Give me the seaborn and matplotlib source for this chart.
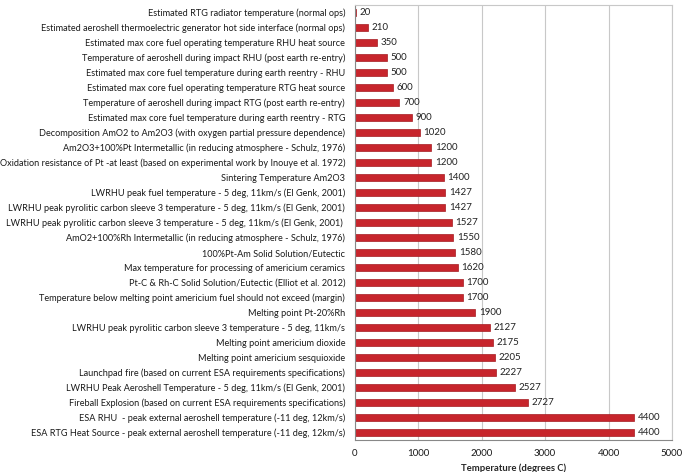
import pandas as pd
import seaborn as sns
from matplotlib import pyplot as plt
from matplotlib.ticker import MultipleLocator, FixedLocator

labels = [
    "Estimated RTG radiator temperature (normal ops)",
    "Estimated aeroshell thermoelectric generator hot side interface (normal ops)",
    "Estimated max core fuel operating temperature RHU heat source",
    "Temperature of aeroshell during impact RHU (post earth re-entry)",
    "Estimated max core fuel temperature during earth reentry - RHU",
    "Estimated max core fuel operating temperature RTG heat source",
    "Temperature of aeroshell during impact RTG (post earth re-entry)",
    "Estimated max core fuel temperature during earth reentry - RTG",
    "Decomposition AmO2 to Am2O3 (with oxygen partial pressure dependence)",
    "Am2O3+100%Pt Intermetallic (in reducing atmosphere - Schulz, 1976)",
    "Oxidation resistance of Pt -at least (based on experimental work by Inouye et al. 1972)",
    "Sintering Temperature Am2O3",
    "LWRHU peak fuel temperature - 5 deg, 11km/s (El Genk, 2001)",
    "LWRHU peak pyrolitic carbon sleeve 3 temperature - 5 deg, 11km/s (El Genk, 2001)",
    "LWRHU peak pyrolitic carbon sleeve 3 temperature - 5 deg, 11km/s (El Genk, 2001) ",
    "AmO2+100%Rh Intermetallic (in reducing atmosphere - Schulz, 1976)",
    "100%Pt-Am Solid Solution/Eutectic",
    "Max temperature for processing of americium ceramics",
    "Pt-C & Rh-C Solid Solution/Eutectic (Elliot et al. 2012)",
    "Temperature below melting point americium fuel should not exceed (margin)",
    "Melting point Pt-20%Rh",
    "LWRHU peak pyrolitic carbon sleeve 3 temperature - 5 deg, 11km/s",
    "Melting point americium dioxide",
    "Melting point americium sesquioxide",
    "Launchpad fire (based on current ESA requirements specifications)",
    "LWRHU Peak Aeroshell Temperature - 5 deg, 11km/s (El Genk, 2001)",
    "Fireball Explosion (based on current ESA requirements specifications)",
    "ESA RHU  - peak external aeroshell temperature (-11 deg, 12km/s)",
    "ESA RTG Heat Source - peak external aeroshell temperature (-11 deg, 12km/s)",
]
temperatures = [20, 210, 350, 500, 500, 600, 700, 900, 1020, 1200, 1200, 1400,
                1427, 1427, 1527, 1550, 1580, 1620, 1700, 1700, 1900, 2127,
                2175, 2205, 2227, 2527, 2727, 4400, 4400]

BAR_COLOR = "#C7252C"


def plot_bars(df, file_name):
    fig = plt.figure(figsize=(6.85, 4.72), dpi=100)
    ax = fig.add_axes([0.518, 0.068, 0.463, 0.921])
    sns.barplot(x="temperature", y="label", data=df, color=BAR_COLOR,
                width=0.48, edgecolor="#A51C22", linewidth=0.5,
                saturation=1, ax=ax)
    for i, v in enumerate(df["temperature"]):
        ax.text(v + 60, i, str(v), va="center", ha="left", fontsize=7,
                color="#222222")

    n = len(df)
    ax.set_ylim(n - 0.5, -0.5)
    ax.set_xlim(0, 5000)
    ax.xaxis.set_major_locator(MultipleLocator(1000))
    ax.xaxis.set_minor_locator(MultipleLocator(100))
    ax.yaxis.set_minor_locator(FixedLocator([i - 0.5 for i in range(n + 1)]))
    ax.tick_params(axis="y", which="major", length=0, labelsize=6.6, pad=7,
                   labelcolor="#1a1a1a")
    ax.tick_params(axis="y", which="minor", length=3, color="#888888")
    ax.tick_params(axis="x", which="major", length=3, labelsize=7,
                   color="#888888", labelcolor="#1a1a1a")
    ax.tick_params(axis="x", which="minor", length=2, color="#888888")
    ax.grid(axis="x", color="#C8C8C8", linewidth=0.8)
    ax.set_axisbelow(True)
    for side in ["top", "right"]:
        ax.spines[side].set_color("#C8C8C8")
    for side in ["left", "bottom"]:
        ax.spines[side].set_color("#888888")
    ax.set_ylabel("")
    ax.set_xlabel("Temperature (degrees C)", fontsize=6.8, fontweight="bold",
                  labelpad=4)
    plt.savefig(file_name, dpi=100)


def main():
    sns.set_style("white")
    plt.rcParams["font.family"] = ["Lato", "DejaVu Sans"]
    df = pd.DataFrame({"label": labels, "temperature": temperatures})
    plot_bars(df, "out.png")


if __name__ == "__main__":
    main()
